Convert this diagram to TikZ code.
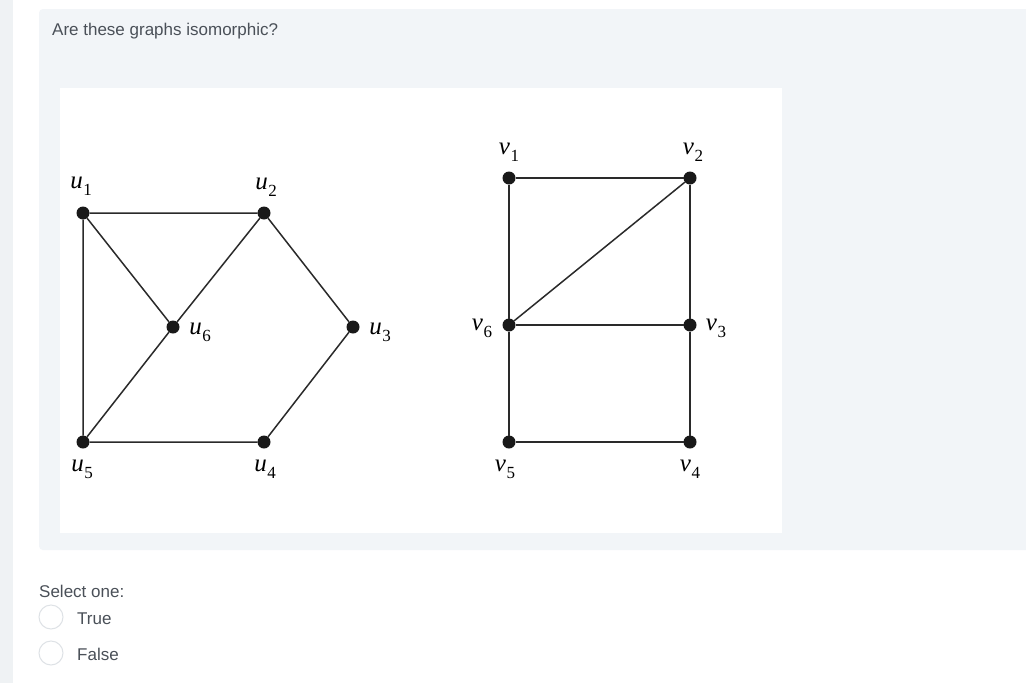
\documentclass[tikz,border=0pt]{standalone}
\usepackage{fontspec}
\setsansfont{Liberation Sans}
\newfontfamily\lblfont{Liberation Serif}
\usetikzlibrary{positioning}
\definecolor{pagegray}{HTML}{EFF2F4}
\definecolor{panelgray}{HTML}{F2F5F8}
\definecolor{textgray}{HTML}{4A5058}
\definecolor{radiogray}{HTML}{DEE2E6}
\definecolor{edgegray}{HTML}{2A2A2A}
\newcommand{\vlab}[2]{\itshape #1\kern0.02em\raisebox{-0.28em}{\upshape\fontsize{17}{17}\selectfont #2}}
\tikzset{
vertex/.style={circle,fill=black!90,inner sep=0pt,outer sep=0pt,minimum size=13pt},
edge/.style={draw=edgegray,line width=1.5pt},
vlabel/.style={inner sep=0pt,font=\lblfont\fontsize{25}{28}\selectfont},
uitext/.style={inner sep=0pt,anchor=base west,text=textgray,font=\sffamily\fontsize{17}{20}\selectfont},
radio/.style={circle,draw=radiogray,line width=1pt,fill=white,minimum size=24pt,inner sep=0pt},
}

\begin{document}
\begin{tikzpicture}[x=1pt,y=-1pt]

        \useasboundingbox (0,0) rectangle (1026,683);
        \fill[white] (0,0) rectangle (1026,683);

        % Page frame
        \fill[pagegray] (0,0) rectangle (13,683);
        \fill[panelgray,rounded corners=4pt] (39,9) rectangle (1040,550);
        \fill[white] (60,88) rectangle (782,533);

        % Question
        \node[uitext] (question) at (52,35) {Are these graphs isomorphic?};

        % Graph G (u)
        \node[vertex] (u1) at (83,213) {};
        \node[vertex] (u2) at (264,213) {};
        \node[vertex] (u3) at (353,327) {};
        \node[vertex] (u4) at (264,442) {};
        \node[vertex] (u5) at (83,442) {};
        \node[vertex] (u6) at (173,327) {};
        \draw[edge] (u1) -- (u2) -- (u3) -- (u4) -- (u5) -- (u1);
        \draw[edge] (u1) -- (u6) -- (u2);
        \draw[edge] (u5) -- (u6);
        \node[vlabel] (lu1) at (81,186) {\vlab{u}{1}};
        \node[vlabel] (lu2) at (266,187) {\vlab{u}{2}};
        \node[vlabel] (lu3) at (380,332) {\vlab{u}{3}};
        \node[vlabel] (lu4) at (265,469) {\vlab{u}{4}};
        \node[vlabel] (lu5) at (82,469) {\vlab{u}{5}};
        \node[vlabel] (lu6) at (200,332) {\vlab{u}{6}};

        % Graph H (v)
        \node[vertex] (v1) at (509,178) {};
        \node[vertex] (v2) at (690,178) {};
        \node[vertex] (v3) at (690,325) {};
        \node[vertex] (v4) at (690,442) {};
        \node[vertex] (v5) at (509,442) {};
        \node[vertex] (v6) at (509,325) {};
        \draw[edge] (v1) -- (v2) -- (v3) -- (v4) -- (v5) -- (v6) -- (v1);
        \draw[edge] (v6) -- (v2);
        \draw[edge] (v6) -- (v3);
        \node[vlabel] (lv1) at (509,152) {\vlab{v}{1}};
        \node[vlabel] (lv2) at (693,152) {\vlab{v}{2}};
        \node[vlabel] (lv3) at (716,328) {\vlab{v}{3}};
        \node[vlabel] (lv4) at (690,469) {\vlab{v}{4}};
        \node[vlabel] (lv5) at (505,469) {\vlab{v}{5}};
        \node[vlabel] (lv6) at (482,328) {\vlab{v}{6}};

        % Answers
        \node[uitext] (select) at (39,597) {Select one:};
        \node[radio] (rtrue) at (51,617) {};
        \node[uitext] (atrue) at (77,624) {True};
        \node[radio] (rfalse) at (51,653) {};
        \node[uitext] (afalse) at (77,660) {False};

\end{tikzpicture}
\end{document}
